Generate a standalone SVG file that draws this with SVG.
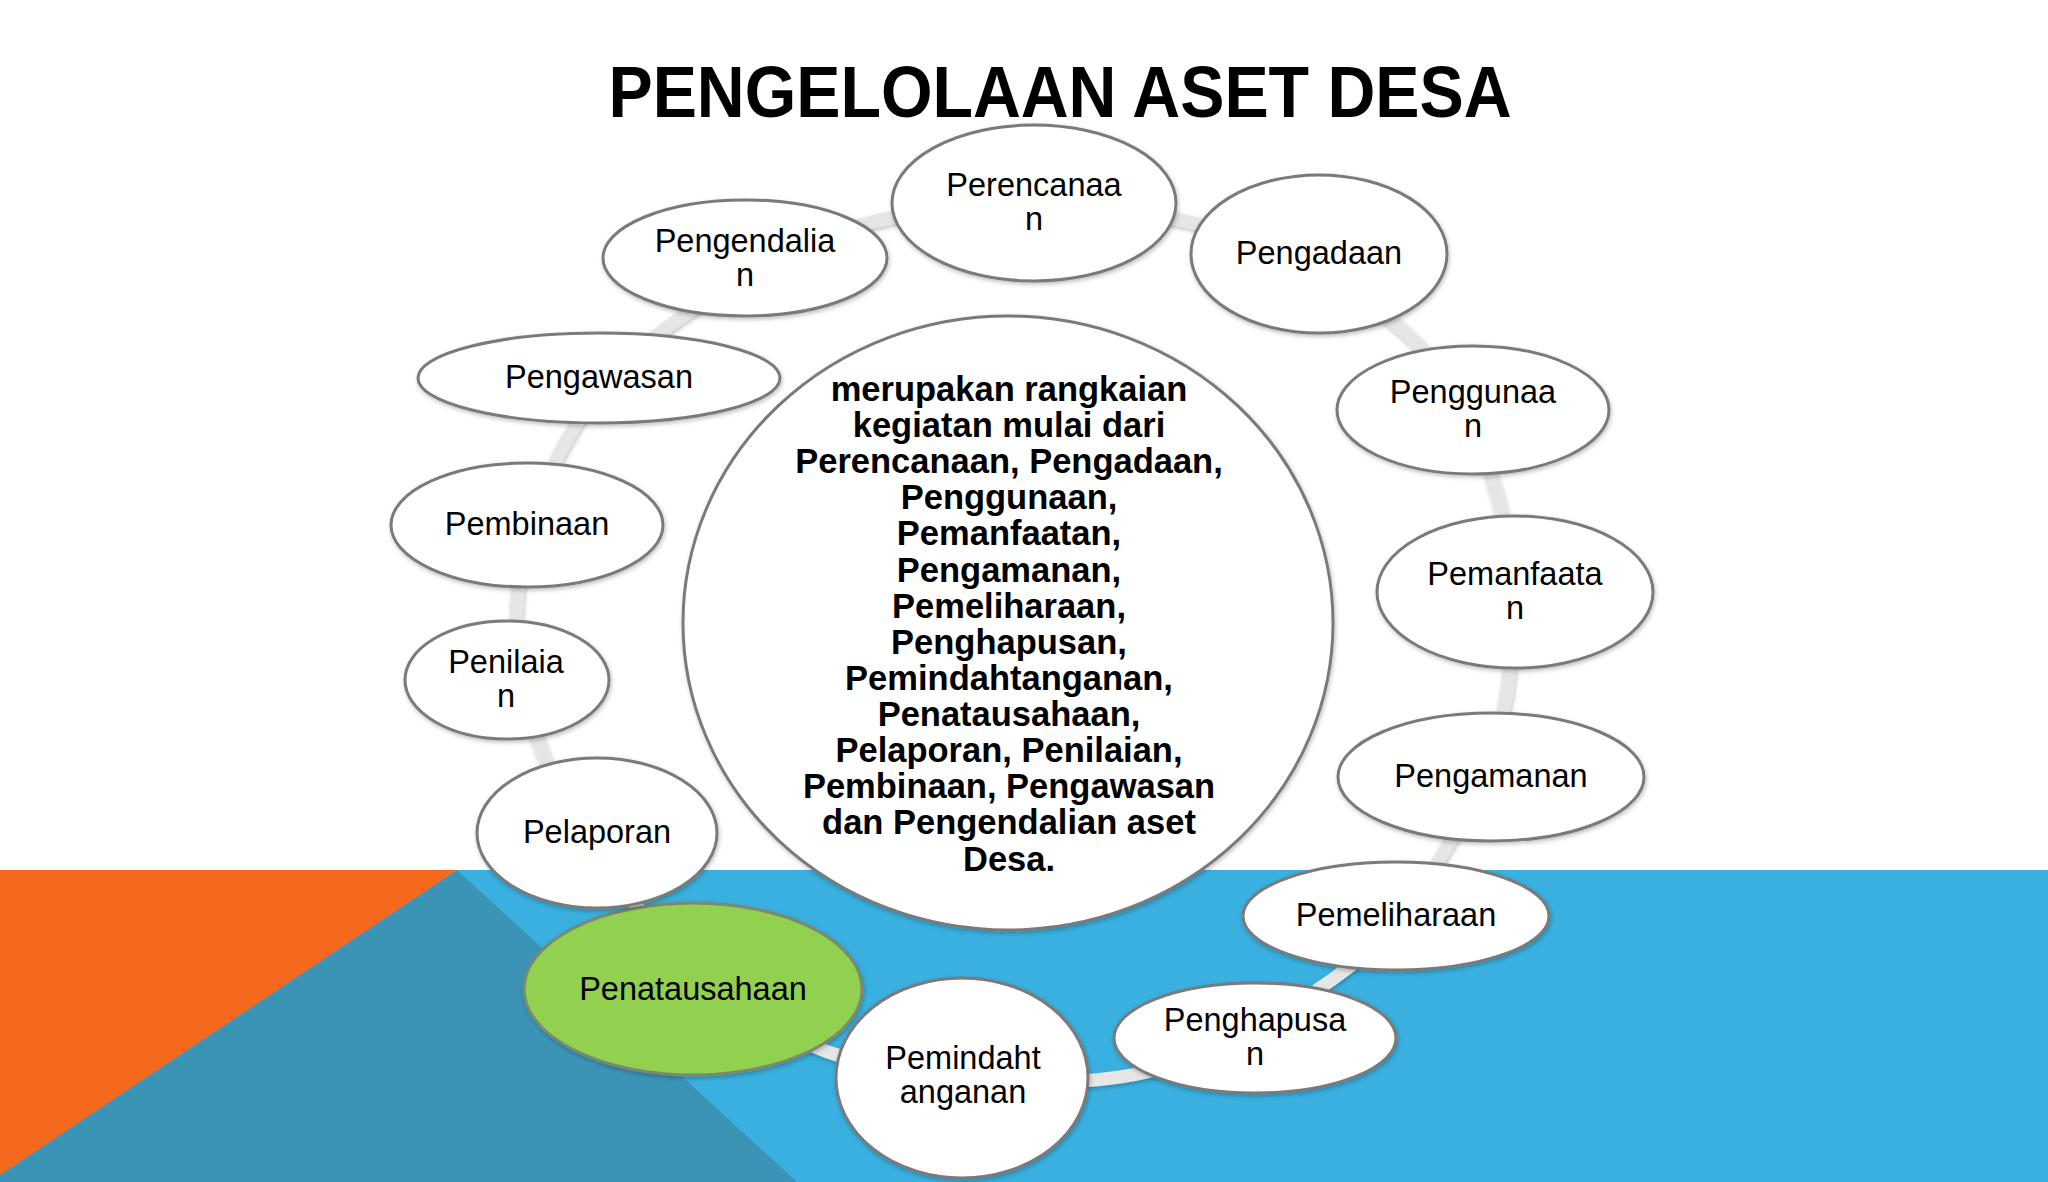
<svg xmlns="http://www.w3.org/2000/svg" width="2048" height="1182" viewBox="0 0 2048 1182">
<defs>
<style>
.node{fill:#ffffff;stroke:#7a7a7a;stroke-width:3}
.t{font-family:"Liberation Sans",Arial,sans-serif;font-size:32.5px;text-anchor:middle;fill:#000}
.c{font-family:"Liberation Sans",Arial,sans-serif;font-size:34.5px;font-weight:bold;text-anchor:middle;fill:#000}
.title{font-family:"Liberation Sans",Arial,sans-serif;font-size:72.5px;font-weight:bold;text-anchor:middle;fill:#000}
</style>
<filter id="sh" x="-10%" y="-10%" width="120%" height="125%">
<feDropShadow dx="1" dy="2" stdDeviation="2" flood-color="#000" flood-opacity="0.25"/>
</filter>
</defs>
<g id="background">
<rect x="0" y="0" width="2048" height="1182" fill="#ffffff"/>
<rect x="0" y="870" width="2048" height="312" fill="#39b0df"/>
<polygon points="457,870 797,1182 0,1182 0,1175" fill="#3b94b6"/>
<polygon points="0,870 457,870 0,1175" fill="#f5691f"/>
</g>
<text id="title" class="title" x="1060" y="117" textLength="903" lengthAdjust="spacingAndGlyphs">PENGELOLAAN ASET DESA</text>
<g id="connectors">
<path d="M673,323 C726.5,285.7 800,235.8 886,219 C972,202.2 1102,202.7 1189,222 C1276,241.3 1356.7,289.3 1408,335 C1459.3,380.7 1480.5,436.8 1497,496 C1513.5,555.2 1515.7,631 1507,690 C1498.3,749 1474,801.8 1445,850 C1416,898.2 1387.2,941.2 1333,979 C1278.8,1016.8 1204.2,1064.8 1120,1077 C1035.8,1089.2 908.5,1080.3 828,1052 C747.5,1023.7 684.7,957 637,907 C589.3,857 562,803.2 542,752 C522,700.8 513.2,651.5 517,600 C520.8,548.5 539,489.2 565,443 C591,396.8 619.5,360.3 673,323 Z" fill="none" stroke="#e6e6e6" stroke-width="13" filter="url(#sh)"/>
</g>
<g id="center">
<ellipse class="node" cx="1008" cy="623" rx="325" ry="307" filter="url(#sh)"/>
<text class="c" x="1009" y="401">merupakan rangkaian</text>
<text class="c" x="1009" y="437">kegiatan mulai dari</text>
<text class="c" x="1009" y="473">Perencanaan, Pengadaan,</text>
<text class="c" x="1009" y="509">Penggunaan,</text>
<text class="c" x="1009" y="545">Pemanfaatan,</text>
<text class="c" x="1009" y="582">Pengamanan,</text>
<text class="c" x="1009" y="618">Pemeliharaan,</text>
<text class="c" x="1009" y="654">Penghapusan,</text>
<text class="c" x="1009" y="690">Pemindahtanganan,</text>
<text class="c" x="1009" y="726">Penatausahaan,</text>
<text class="c" x="1009" y="762">Pelaporan, Penilaian,</text>
<text class="c" x="1009" y="798">Pembinaan, Pengawasan</text>
<text class="c" x="1009" y="834">dan Pengendalian aset</text>
<text class="c" x="1009" y="871">Desa.</text>
</g>
<g id="n1"><ellipse class="node" cx="1034" cy="203" rx="142" ry="78" filter="url(#sh)"/><text class="t" x="1034" y="196">Perencanaa</text><text class="t" x="1034" y="230">n</text></g>
<g id="n2"><ellipse class="node" cx="1319" cy="254" rx="128" ry="79" filter="url(#sh)"/><text class="t" x="1319" y="264">Pengadaan</text></g>
<g id="n3"><ellipse class="node" cx="1473" cy="410" rx="136" ry="64" filter="url(#sh)"/><text class="t" x="1473" y="403">Penggunaa</text><text class="t" x="1473" y="437">n</text></g>
<g id="n4"><ellipse class="node" cx="1515" cy="592" rx="138" ry="76" filter="url(#sh)"/><text class="t" x="1515" y="585">Pemanfaata</text><text class="t" x="1515" y="619">n</text></g>
<g id="n5"><ellipse class="node" cx="1491" cy="777" rx="153" ry="64" filter="url(#sh)"/><text class="t" x="1491" y="787">Pengamanan</text></g>
<g id="n6"><ellipse class="node" cx="1396" cy="916" rx="153" ry="54" filter="url(#sh)"/><text class="t" x="1396" y="926">Pemeliharaan</text></g>
<g id="n7"><ellipse class="node" cx="1255" cy="1038" rx="141" ry="55" filter="url(#sh)"/><text class="t" x="1255" y="1031">Penghapusa</text><text class="t" x="1255" y="1065">n</text></g>
<g id="n9"><ellipse cx="693" cy="989" rx="169" ry="86" fill="#92d050" stroke="#7a8a70" stroke-width="3" filter="url(#sh)"/><text class="t" x="693" y="1000">Penatausahaan</text></g>
<g id="n8"><ellipse class="node" cx="962" cy="1078" rx="126" ry="100" filter="url(#sh)"/><text class="t" x="963" y="1069">Pemindaht</text><text class="t" x="963" y="1103">anganan</text></g>
<g id="n10"><ellipse class="node" cx="597" cy="833" rx="120" ry="75" filter="url(#sh)"/><text class="t" x="597" y="843">Pelaporan</text></g>
<g id="n11"><ellipse class="node" cx="507" cy="680" rx="102" ry="59" filter="url(#sh)"/><text class="t" x="506" y="673">Penilaia</text><text class="t" x="506" y="707">n</text></g>
<g id="n12"><ellipse class="node" cx="527" cy="525" rx="136" ry="62" filter="url(#sh)"/><text class="t" x="527" y="535">Pembinaan</text></g>
<g id="n13"><ellipse class="node" cx="599" cy="378" rx="181" ry="45" filter="url(#sh)"/><text class="t" x="599" y="388">Pengawasan</text></g>
<g id="n14"><ellipse class="node" cx="745" cy="258" rx="142" ry="58" filter="url(#sh)"/><text class="t" x="745" y="252">Pengendalia</text><text class="t" x="745" y="286">n</text></g>
</svg>
